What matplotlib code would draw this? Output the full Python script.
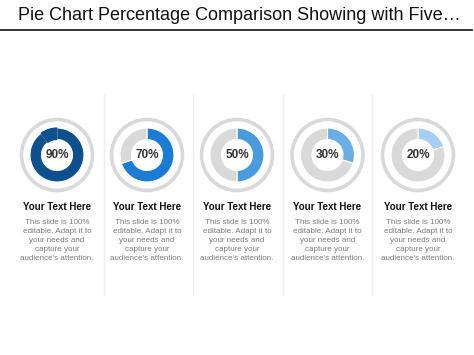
import matplotlib.pyplot as plt
from matplotlib.patches import Circle

# chart data
title = 'Pie Chart Percentage Comparison Showing with Five\u2026'
percents = [90, 70, 50, 30, 20]
labels = ['90%', '70%', '50%', '30%', '20%']
headings = ['Your Text Here'] * 5
desc_lines = ['This slide is 100%', 'editable. Adapt it to', 'your needs and',
              'capture your', "audience's attention."]
fill_colors = ['#0e4f8e', '#1b7bd5', '#4a9ae0', '#6aaee8', '#a6cff4']
# the 90% ring shows no visible gray remainder in the reference
rest_colors = ['#0e4f8e', '#d9d9d9', '#d9d9d9', '#d9d9d9', '#d9d9d9']

W, H = 474, 355
centers_x = [57, 147, 237, 327.5, 418]
cy = H - 155
sep_x = [104, 193, 283, 372]

plt.rcParams['font.family'] = ['Liberation Sans', 'DejaVu Sans']

fig = plt.figure(figsize=(W / 100, H / 100), dpi=100)
ax = fig.add_axes([0, 0, 1, 1])

for i, p in enumerate(percents):
    cx = centers_x[i]
    # outer gray ring
    ax.add_patch(Circle((cx, cy), 35.5, fill=False, ec='#d9d9d9', lw=2.6))
    wedges, _ = ax.pie([p, 100 - p], colors=[fill_colors[i], rest_colors[i]],
                       startangle=90, counterclock=False, center=(cx, cy), radius=27,
                       wedgeprops=dict(width=11.5, edgecolor='white', linewidth=0.8))
    if rest_colors[i] == fill_colors[i]:
        wedges[1].set_edgecolor(rest_colors[i])
    ax.text(cx, cy, labels[i], ha='center', va='center', fontsize=8.5,
            fontweight='bold', color='#333333')
    ax.text(cx, H - 206.5, headings[i], ha='center', va='center',
            fontsize=7, fontweight='bold', color='#111111')
    for j, line in enumerate(desc_lines):
        ax.text(cx, H - 222 - j * 9.2, line, ha='center', va='center',
                fontsize=5.8, color='#7a7a7a')

for x in sep_x:
    ax.plot([x, x], [H - 95, H - 295], color='#ededed', lw=1)

ax.text(W / 2 + 2, H - 16, title, ha='center', va='center', fontsize=13,
        color='#111111')
ax.plot([0, 472], [H - 29.5, H - 29.5], color='#222222', lw=1.3)

ax.set_xlim(0, W)
ax.set_ylim(0, H)
ax.set_aspect('equal')
ax.axis('off')

fig.savefig('out.png', dpi=100, facecolor='white')
